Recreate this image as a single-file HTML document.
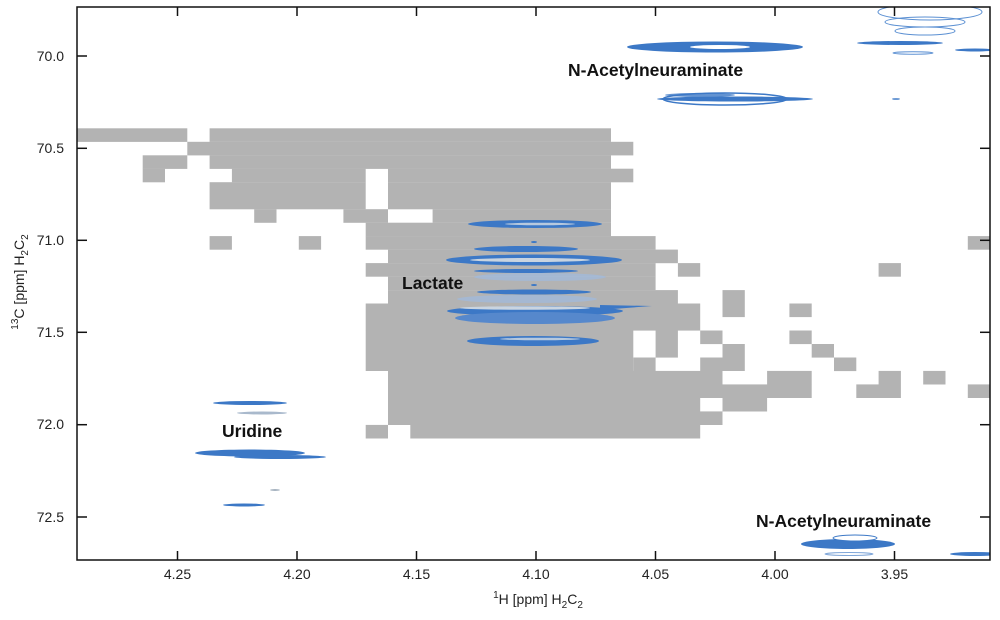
<!DOCTYPE html>
<html><head><meta charset="utf-8"><style>
html,body{margin:0;padding:0;background:#fff;}
svg{display:block;font-family:"Liberation Sans",sans-serif;}
.t{font-size:14px;fill:#222;}
.lb{font-size:17.5px;font-weight:bold;fill:#111;}
</style></head><body>
<svg width="1000" height="620" viewBox="0 0 1000 620" xmlns="http://www.w3.org/2000/svg">
<defs><clipPath id="pc"><rect x="77" y="7" width="913" height="553"/></clipPath></defs>
<g clip-path="url(#pc)" fill="#b3b3b3">
<rect x="75.8" y="128.3" width="111.5" height="13.6"/><rect x="209.6" y="128.3" width="401.4" height="13.6"/>
<rect x="187.3" y="141.8" width="446" height="13.6"/>
<rect x="142.7" y="155.3" width="44.6" height="13.6"/><rect x="209.6" y="155.3" width="401.4" height="13.6"/>
<rect x="142.7" y="168.7" width="22.3" height="13.6"/><rect x="231.9" y="168.7" width="133.8" height="13.6"/><rect x="388" y="168.7" width="245.3" height="13.6"/>
<rect x="209.6" y="182.2" width="156.1" height="27.1"/><rect x="388" y="182.2" width="223" height="27.1"/>
<rect x="254.2" y="209.2" width="22.3" height="13.6"/><rect x="343.4" y="209.2" width="44.6" height="13.6"/><rect x="432.6" y="209.2" width="178.4" height="13.6"/>
<rect x="365.7" y="222.7" width="245.3" height="13.6"/>
<rect x="209.6" y="236.1" width="22.3" height="13.6"/><rect x="298.8" y="236.1" width="22.3" height="13.6"/><rect x="365.7" y="236.1" width="289.9" height="13.6"/><rect x="967.8" y="236.1" width="22.3" height="13.6"/>
<rect x="388" y="249.6" width="289.9" height="13.6"/>
<rect x="365.7" y="263.1" width="289.9" height="13.6"/><rect x="677.9" y="263.1" width="22.3" height="13.6"/><rect x="878.6" y="263.1" width="22.3" height="13.6"/>
<rect x="388" y="276.6" width="267.6" height="13.6"/>
<rect x="388" y="290.1" width="289.9" height="13.6"/><rect x="722.5" y="290.1" width="22.3" height="27"/>
<rect x="365.7" y="303.5" width="334.5" height="27.1"/><rect x="789.4" y="303.5" width="22.3" height="13.6"/>
<rect x="365.7" y="330.5" width="267.6" height="40.5"/><rect x="655.6" y="330.5" width="22.3" height="27.1"/><rect x="700.2" y="330.5" width="22.3" height="13.6"/><rect x="789.4" y="330.5" width="22.3" height="13.6"/>
<rect x="722.5" y="344" width="22.3" height="27"/><rect x="811.7" y="344" width="22.3" height="13.6"/>
<rect x="633.3" y="357.5" width="22.3" height="13.6"/><rect x="700.2" y="357.5" width="22.3" height="27"/><rect x="834" y="357.5" width="22.3" height="13.6"/>
<rect x="388" y="370.9" width="334.5" height="13.6"/><rect x="767.1" y="370.9" width="44.6" height="13.6"/><rect x="878.6" y="370.9" width="22.3" height="13.6"/><rect x="923.2" y="370.9" width="22.3" height="13.6"/>
<rect x="388" y="384.4" width="423.7" height="13.6"/><rect x="856.3" y="384.4" width="44.6" height="13.6"/><rect x="967.8" y="384.4" width="22.3" height="13.6"/>
<rect x="388" y="397.9" width="312.2" height="13.6"/><rect x="722.5" y="397.9" width="44.6" height="13.6"/>
<rect x="388" y="411.4" width="334.5" height="13.6"/>
<rect x="365.7" y="424.9" width="22.3" height="13.6"/><rect x="410.3" y="424.9" width="289.9" height="13.6"/>
</g>
<g clip-path="url(#pc)">
<ellipse cx="535" cy="224" rx="67" ry="4" fill="#3c78c6"/><ellipse cx="540" cy="224" rx="35" ry="1.3" fill="#b7c9de"/>
<ellipse cx="534" cy="242" rx="3" ry="1" fill="#3c78c6"/>
<ellipse cx="526" cy="249" rx="52" ry="3" fill="#3c78c6"/>
<ellipse cx="534" cy="260" rx="88" ry="5.5" fill="#3c78c6"/><ellipse cx="530" cy="260" rx="60" ry="2" fill="#c9d4e0"/>
<ellipse cx="526" cy="271" rx="52" ry="2" fill="#3c78c6"/>
<ellipse cx="540" cy="277" rx="66" ry="4" fill="#9fbbe0" opacity="0.7"/>
<ellipse cx="534" cy="285" rx="3" ry="1" fill="#3c78c6"/>
<ellipse cx="534" cy="292" rx="57" ry="2.5" fill="#3c78c6"/>
<ellipse cx="527" cy="299" rx="70" ry="4" fill="#9fbbe0" opacity="0.7"/>
<ellipse cx="535" cy="311" rx="88" ry="5" fill="#3c78c6"/><path d="M600 305 L652 306 L600 310Z" fill="#3c78c6"/>
<ellipse cx="535" cy="318" rx="80" ry="6" fill="#5688cc"/><ellipse cx="525" cy="308" rx="65" ry="1.8" fill="#c9d4e0"/>
<ellipse cx="533" cy="341" rx="66" ry="5" fill="#3c78c6"/><ellipse cx="540" cy="339" rx="40" ry="1.3" fill="#b7c9de"/>
<ellipse cx="715" cy="47" rx="88" ry="5.5" fill="#3c78c6"/><ellipse cx="720" cy="47" rx="30" ry="2" fill="#fff"/>
<ellipse cx="725" cy="99" rx="62" ry="6" fill="none" stroke="#3c78c6" stroke-width="1.5"/>
<ellipse cx="735" cy="99" rx="78" ry="2.5" fill="#3c78c6"/>
<ellipse cx="700" cy="95" rx="35" ry="2" fill="#3c78c6" opacity="0.8"/>
<ellipse cx="930" cy="12" rx="52" ry="8" fill="none" stroke="#5a8fd2" stroke-width="1"/>
<ellipse cx="925" cy="22" rx="40" ry="5" fill="none" stroke="#5a8fd2" stroke-width="1"/>
<ellipse cx="925" cy="31" rx="30" ry="4" fill="none" stroke="#5a8fd2" stroke-width="1"/>
<ellipse cx="900" cy="43" rx="43" ry="2" fill="#3c78c6"/>
<ellipse cx="913" cy="53" rx="20" ry="1.2" fill="none" stroke="#5a8fd2" stroke-width="1"/>
<ellipse cx="975" cy="50" rx="20" ry="1.5" fill="#3c78c6"/>
<ellipse cx="896" cy="99" rx="4" ry="0.8" fill="#3c78c6"/>
<ellipse cx="250" cy="403" rx="37" ry="2" fill="#3c78c6"/>
<ellipse cx="262" cy="413" rx="25" ry="1.5" fill="#a9b9cc"/>
<ellipse cx="250" cy="453" rx="55" ry="3.5" fill="#3c78c6"/><ellipse cx="280" cy="457" rx="46" ry="2" fill="#3c78c6"/>
<ellipse cx="244" cy="505" rx="21" ry="1.5" fill="#3c78c6"/>
<ellipse cx="275" cy="490" rx="5" ry="0.7" fill="#8899aa"/>
<ellipse cx="848" cy="544" rx="47" ry="5" fill="#3c78c6"/><ellipse cx="855" cy="538" rx="22" ry="3" fill="#fff" stroke="#3c78c6" stroke-width="1"/>
<ellipse cx="849" cy="554" rx="24" ry="1.5" fill="none" stroke="#7fa6d8" stroke-width="1"/>
<ellipse cx="975" cy="554" rx="25" ry="2" fill="#3c78c6"/>
</g>
<rect x="77" y="7" width="913" height="553" fill="none" stroke="#111" stroke-width="1.5"/>
<g stroke="#111" stroke-width="1.5">
<line x1="177.5" y1="560" x2="177.5" y2="551"/><line x1="297" y1="560" x2="297" y2="551"/><line x1="416.5" y1="560" x2="416.5" y2="551"/><line x1="536" y1="560" x2="536" y2="551"/><line x1="655.5" y1="560" x2="655.5" y2="551"/><line x1="775" y1="560" x2="775" y2="551"/><line x1="894.5" y1="560" x2="894.5" y2="551"/>
<line x1="177.5" y1="7" x2="177.5" y2="16"/><line x1="297" y1="7" x2="297" y2="16"/><line x1="416.5" y1="7" x2="416.5" y2="16"/><line x1="536" y1="7" x2="536" y2="16"/><line x1="655.5" y1="7" x2="655.5" y2="16"/><line x1="775" y1="7" x2="775" y2="16"/><line x1="894.5" y1="7" x2="894.5" y2="16"/>
<line x1="77" y1="56" x2="87" y2="56"/><line x1="77" y1="148.3" x2="87" y2="148.3"/><line x1="77" y1="240.3" x2="87" y2="240.3"/><line x1="77" y1="332.3" x2="87" y2="332.3"/><line x1="77" y1="424.7" x2="87" y2="424.7"/><line x1="77" y1="517" x2="87" y2="517"/>
<line x1="990" y1="56" x2="980" y2="56"/><line x1="990" y1="148.3" x2="980" y2="148.3"/><line x1="990" y1="240.3" x2="980" y2="240.3"/><line x1="990" y1="332.3" x2="980" y2="332.3"/><line x1="990" y1="424.7" x2="980" y2="424.7"/><line x1="990" y1="517" x2="980" y2="517"/>
</g>
<g class="t" text-anchor="middle">
<text x="177.5" y="579">4.25</text><text x="297" y="579">4.20</text><text x="416.5" y="579">4.15</text><text x="536" y="579">4.10</text><text x="655.5" y="579">4.05</text><text x="775" y="579">4.00</text><text x="894.5" y="579">3.95</text>
</g>
<g class="t" text-anchor="end">
<text x="64" y="61">70.0</text><text x="64" y="153">70.5</text><text x="64" y="245">71.0</text><text x="64" y="337">71.5</text><text x="64" y="429">72.0</text><text x="64" y="522">72.5</text>
</g>
<text class="t" x="538" y="604" text-anchor="middle"><tspan font-size="10" dy="-6">1</tspan><tspan dy="6">H [ppm] H</tspan><tspan font-size="10" dy="4">2</tspan><tspan dy="-4">C</tspan><tspan font-size="10" dy="4">2</tspan></text>
<text class="t" transform="translate(24,282) rotate(-90)" text-anchor="middle"><tspan font-size="10" dy="-6">13</tspan><tspan dy="6">C [ppm] H</tspan><tspan font-size="10" dy="4">2</tspan><tspan dy="-4">C</tspan><tspan font-size="10" dy="4">2</tspan></text>
<text class="lb" x="568" y="76">N-Acetylneuraminate</text>
<text class="lb" x="402" y="289">Lactate</text>
<text class="lb" x="222" y="437">Uridine</text>
<text class="lb" x="756" y="527">N-Acetylneuraminate</text>
</svg>
</body></html>
